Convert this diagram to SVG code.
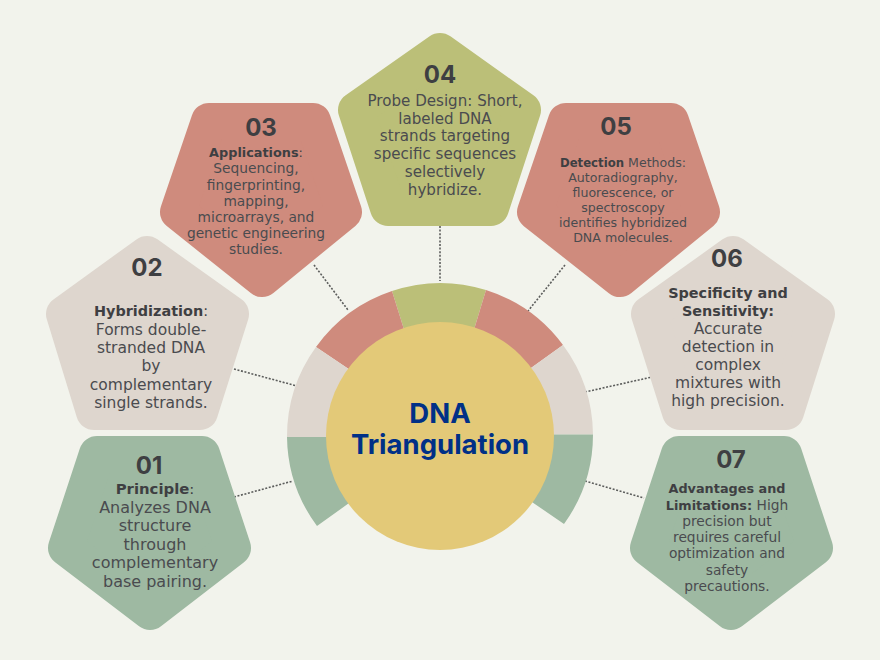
<svg xmlns="http://www.w3.org/2000/svg" width="880" height="660" viewBox="0 0 880 660">
<style>
.p{stroke-width:36;stroke-linejoin:round}
.salmon{fill:#cf8b7d;stroke:#cf8b7d}
.olive{fill:#bbbf78;stroke:#bbbf78}
.beige{fill:#ded6ce;stroke:#ded6ce}
.green{fill:#9eb9a2;stroke:#9eb9a2}
.w{stroke:none}
text{font-family:"DejaVu Sans","Liberation Sans",sans-serif;text-anchor:middle;fill:#4a4b4f}
.n{font-family:"Inter","Liberation Sans",sans-serif;font-size:24px;font-weight:700;fill:#3e3f42}
.b{font-weight:700;fill:#3e3f42;font-size:.93em}
.t17{font-size:16px}
.t16{font-size:15.5px}
.t16b{font-size:15.1px}
.t15{font-size:13.8px}
.t13{font-size:12.6px}
.title{font-family:"Inter","Liberation Sans",sans-serif;font-size:27.5px;font-weight:700;fill:#003087}
.c{fill:none;stroke:#5c5d5c;stroke-width:1.6;stroke-dasharray:2 1.6}
</style>
<rect width="880" height="660" fill="#f2f3ec"/>
<g id="connectors">
<path class="c" d="M440 226V281"/>
<path class="c" d="M314 265L348 310"/>
<path class="c" d="M565 265L528 311"/>
<path class="c" d="M234 369L297 386"/>
<path class="c" d="M585 392L652 377"/>
<path class="c" d="M234 497L293 481"/>
<path class="c" d="M585 481L644 498"/>
</g>
<g id="ring">
<path class="olive w" d="M392 291A153 153 0 0 1 486 290L472.200 335.600A105 105 0 0 0 405.900 335.600Z"/>
<path class="salmon w" d="M392 291A153 153 0 0 0 316 347L355.300 373.400A105 105 0 0 1 405.900 335.600Z"/>
<path class="salmon w" d="M486 290A153 153 0 0 1 563 345L524.700 372.400A105 105 0 0 0 472.200 335.600Z"/>
<path class="beige w" d="M316 347A153 153 0 0 0 287 437L335 437A105 105 0 0 1 355.300 373.400Z"/>
<path class="beige w" d="M563 345A153 153 0 0 1 593 434.500L545 434.600A105 105 0 0 0 524.700 372.400Z"/>
<path class="green w" d="M287 437A153 153 0 0 0 317 526L355.300 498.600A105 105 0 0 1 335 437Z"/>
<path class="green w" d="M593 434.500A153 153 0 0 1 564 524L525.700 497.700A105 105 0 0 0 545 434.600Z"/>
</g>
<g id="center">
<circle cx="440" cy="436" r="114" fill="#e3c978"/>
<text class="title" x="440" y="423">DNA</text>
<text class="title" x="440" y="454">Triangulation</text>
</g>
<g id="node-01">
<polygon class="p green" points="97,454 202,454 233,548 150,612 66,548"/>
<text class="n" x="149" y="474">01</text>
<text class="t17"><tspan x="155" y="494" class="b">Principle<tspan font-weight="400">:</tspan></tspan><tspan x="155" y="513">Analyzes DNA</tspan><tspan x="155" y="531">structure</tspan><tspan x="155" y="550">through</tspan><tspan x="155" y="568">complementary</tspan><tspan x="155" y="587">base pairing.</tspan></text>
</g>
<g id="node-02">
<polygon class="p beige" points="147,254 64,314 94,412 200,412 231,314"/>
<text class="n" x="147" y="276">02</text>
<text class="t16"><tspan x="151" y="316" class="b">Hybridization<tspan font-weight="400">:</tspan></tspan><tspan x="151" y="335">Forms double-</tspan><tspan x="151" y="353">stranded DNA</tspan><tspan x="151" y="371">by</tspan><tspan x="151" y="390">complementary</tspan><tspan x="151" y="408">single strands.</tspan></text>
</g>
<g id="node-03">
<polygon class="p salmon" points="209,121 313,121 344,212 262,279 178,212"/>
<text class="n" x="261" y="136">03</text>
<text class="t15"><tspan x="256" y="157" class="b">Applications<tspan font-weight="400">:</tspan></tspan><tspan x="256" y="173">Sequencing,</tspan><tspan x="256" y="190">fingerprinting,</tspan><tspan x="256" y="206">mapping,</tspan><tspan x="256" y="222">microarrays, and</tspan><tspan x="256" y="238">genetic engineering</tspan><tspan x="256" y="254">studies.</tspan></text>
</g>
<g id="node-04">
<polygon class="p olive" points="440,51 356,110 388,208 491,208 523,110"/>
<text class="n" x="440" y="83">04</text>
<text class="t16b"><tspan x="445" y="106">Probe Design: Short,</tspan><tspan x="445" y="124">labeled DNA</tspan><tspan x="445" y="141">strands targeting</tspan><tspan x="445" y="159">specific sequences</tspan><tspan x="445" y="177">selectively</tspan><tspan x="445" y="195">hybridize.</tspan></text>
</g>
<g id="node-05">
<polygon class="p salmon" points="566,121 671,121 702,212 620,279 535,212"/>
<text class="n" x="616" y="135">05</text>
<text class="t13"><tspan x="623" y="167"><tspan class="b">Detection</tspan> Methods:</tspan><tspan x="623" y="182">Autoradiography,</tspan><tspan x="623" y="197">fluorescence, or</tspan><tspan x="623" y="212">spectroscopy</tspan><tspan x="623" y="227">identifies hybridized</tspan><tspan x="623" y="242">DNA molecules.</tspan></text>
</g>
<g id="node-06">
<polygon class="p beige" points="733,254 649,314 680,412 786,412 817,314"/>
<text class="n" x="727" y="267">06</text>
<text class="t16"><tspan x="728" y="298" class="b">Specificity and</tspan><tspan x="728" y="316" class="b">Sensitivity:</tspan><tspan x="728" y="334">Accurate</tspan><tspan x="728" y="352">detection in</tspan><tspan x="728" y="370">complex</tspan><tspan x="728" y="388">mixtures with</tspan><tspan x="728" y="406">high precision.</tspan></text>
</g>
<g id="node-07">
<polygon class="p green" points="679,454 784,454 815,548 731,612 648,548"/>
<text class="n" x="731" y="468">07</text>
<text class="t15"><tspan x="727" y="493" class="b">Advantages and</tspan><tspan x="727" y="510"><tspan class="b">Limitations:</tspan> High</tspan><tspan x="727" y="526">precision but</tspan><tspan x="727" y="542">requires careful</tspan><tspan x="727" y="558">optimization and</tspan><tspan x="727" y="575">safety</tspan><tspan x="727" y="591">precautions.</tspan></text>
</g>
</svg>
